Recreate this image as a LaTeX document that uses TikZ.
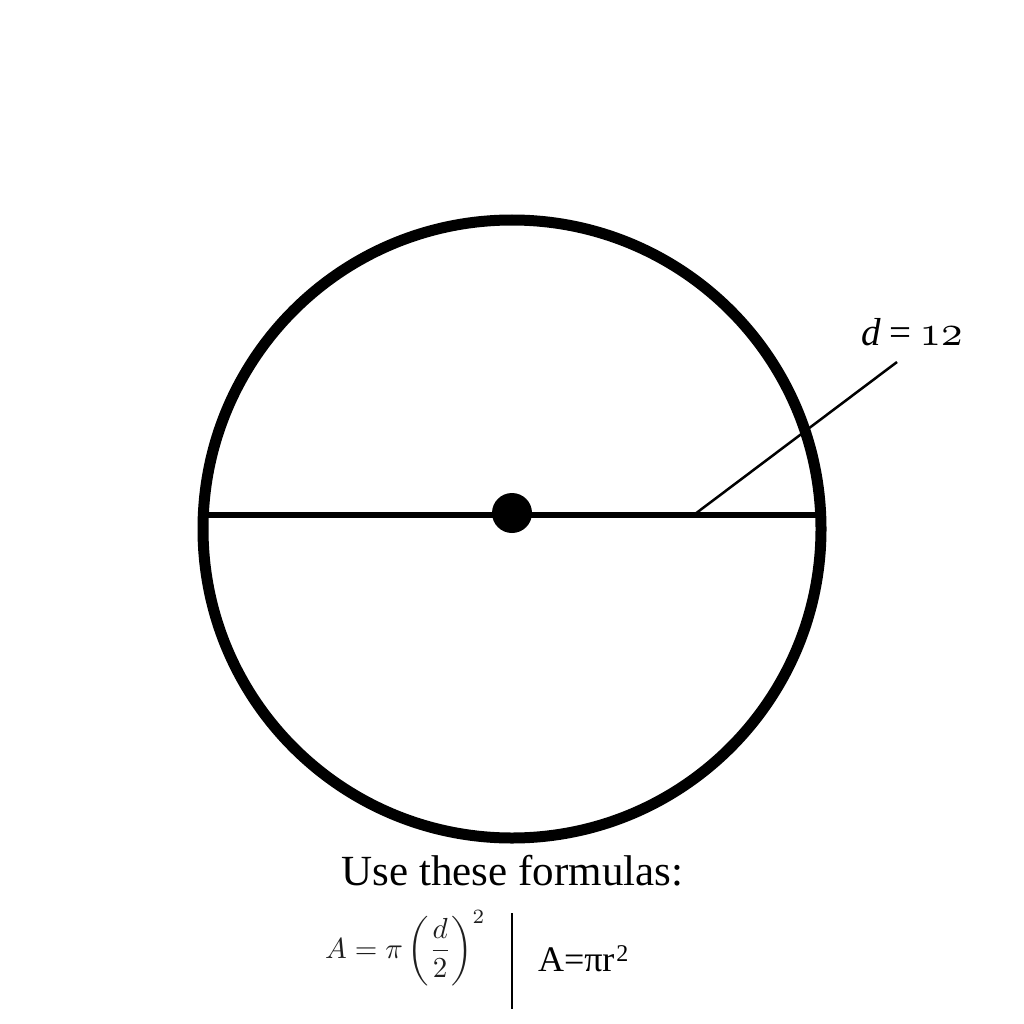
\documentclass[tikz,border=0pt]{standalone}
\usepackage{graphicx}
\usepackage{fontspec}
\setmainfont{Liberation Serif}
\begin{document}
\begin{tikzpicture}[x=1pt,y=-1pt,
  rim/.style={line width=11pt},
  diam/.style={line width=6pt},
  leader/.style={line width=2.5pt},
  divider/.style={line width=2.5pt},
  txt/.style={inner sep=0pt, outer sep=0pt}]
\useasboundingbox (0,0) rectangle (1024,1024);
% circle
\coordinate (O) at (512,529);
\draw[rim] (O) circle[radius=309];
% diameter
\coordinate (L) at (203,515);
\coordinate (R) at (822,515);
\draw[diam] (L) -- (R);
\node[circle, fill=black, minimum size=40pt, inner sep=0pt] (ctr) at (512,513) {};
% label and leader
\coordinate (lstart) at (695,514);
\coordinate (lend) at (897,362);
\draw[leader] (lstart) -- (lend);
\node[txt, anchor=base west] (lab) at (861,345)
  {\fontsize{39}{44}\selectfont\textit{d}\hspace{9pt}=\hspace{8pt}\scalebox{4.3}{\fontsize{10}{12}\usefont{OML}{cmm}{m}{it}12}};
% formulas
\node[txt, anchor=base] (use) at (512.5,885) {\fontsize{43}{50}\selectfont Use these formulas:};
\node[txt, anchor=base west, text=black!88] (f1) at (325,958)
  {\scalebox{2.9}{$\displaystyle A=\pi\left(\frac{d}{2}\right)^{2}$}};
\coordinate (dtop) at (512,913);
\coordinate (dbot) at (512,1009);
\draw[divider] (dtop) -- (dbot);
\node[txt, anchor=base west] (f2) at (538,971)
  {\fontsize{36}{40}\selectfont A=πr\hspace{2pt}\raisebox{10pt}{\fontsize{24}{26}\selectfont 2}};
\end{tikzpicture}
\end{document}
